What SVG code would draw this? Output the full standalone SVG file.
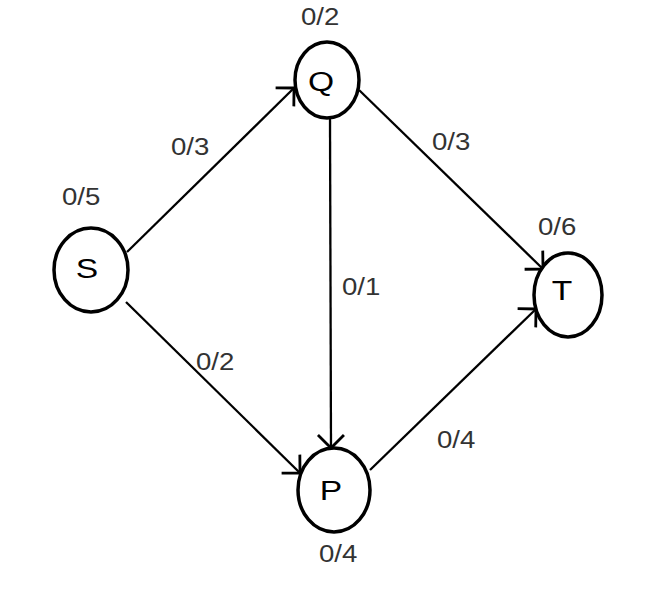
<svg xmlns="http://www.w3.org/2000/svg" width="670" height="596" viewBox="0 0 670 596">
<style>
.node{fill:#fff;stroke:#000;stroke-width:3.5}
.edge{stroke:#000;stroke-width:2.3;fill:none}
.lbl{font-family:"Liberation Sans",Arial,sans-serif;font-size:24px;fill:#333}
.nm{font-family:"Liberation Sans",Arial,sans-serif;font-size:28px;fill:#000;text-anchor:middle}
</style>
<defs>
<marker id="arr" markerUnits="userSpaceOnUse" markerWidth="30" markerHeight="30" viewBox="-15 -15 30 30" refX="0" refY="0" orient="auto">
<path d="M-13,-13 L0,0 L-13,13" fill="none" stroke="#000" stroke-width="2.8"/>
</marker>
</defs>
<rect width="670" height="596" fill="#fff"/>
<g id="edges">
<line class="edge" x1="127" y1="252" x2="294" y2="88" marker-end="url(#arr)"/>
<line class="edge" x1="330" y1="118" x2="331" y2="448" marker-end="url(#arr)"/>
<line class="edge" x1="359" y1="90" x2="543" y2="269" marker-end="url(#arr)"/>
<line class="edge" x1="126" y1="302" x2="300" y2="473" marker-end="url(#arr)"/>
<line class="edge" x1="370" y1="470" x2="536" y2="309" marker-end="url(#arr)"/>
</g>
<g id="edge-labels">
<text class="lbl" transform="translate(171,155) scale(1.15,1)">0/3</text>
<text class="lbl" transform="translate(432,150) scale(1.15,1)">0/3</text>
<text class="lbl" transform="translate(342,295) scale(1.15,1)">0/1</text>
<text class="lbl" transform="translate(196,370) scale(1.15,1)">0/2</text>
<text class="lbl" transform="translate(437,448) scale(1.15,1)">0/4</text>
</g>
<g id="node-S">
<ellipse class="node" cx="91" cy="270" rx="37" ry="42"/>
<text class="nm" transform="translate(87,278) scale(1.2,1)">S</text>
<text class="lbl" transform="translate(62,205) scale(1.15,1)">0/5</text>
</g>
<g id="node-Q">
<ellipse class="node" cx="327" cy="80" rx="32" ry="38"/>
<text class="nm" transform="translate(321,91) scale(1.2,1)">Q</text>
<text class="lbl" transform="translate(301,25) scale(1.15,1)">0/2</text>
</g>
<g id="node-P">
<ellipse class="node" cx="334" cy="490" rx="36" ry="42"/>
<text class="nm" transform="translate(331,500) scale(1.2,1)">P</text>
<text class="lbl" transform="translate(319,562) scale(1.15,1)">0/4</text>
</g>
<g id="node-T">
<ellipse class="node" cx="568" cy="295" rx="34" ry="42"/>
<text class="nm" transform="translate(562,300) scale(1.2,1)">T</text>
<text class="lbl" transform="translate(538,235) scale(1.15,1)">0/6</text>
</g>
</svg>
